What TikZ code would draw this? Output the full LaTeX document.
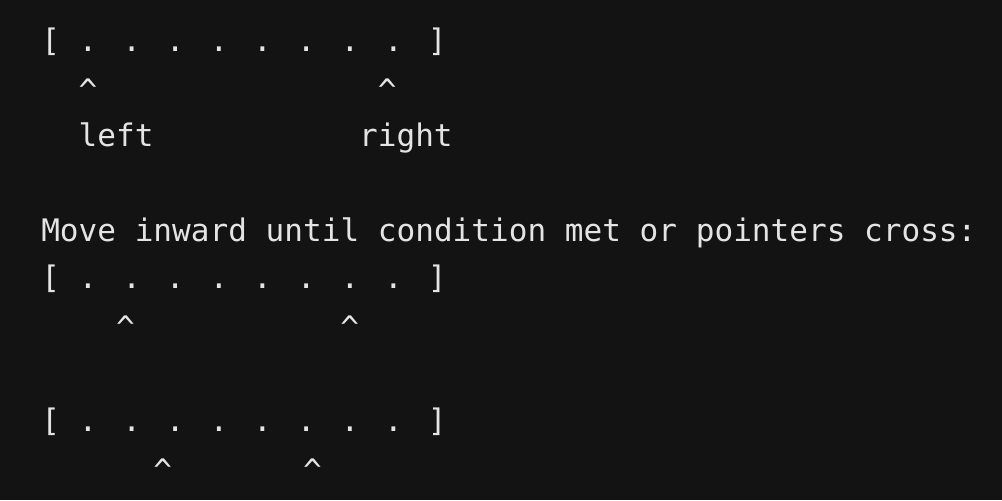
\documentclass[tikz,border=0pt]{standalone}
\usepackage{fontspec}
\newfontfamily\asciifont{DejaVu Sans Mono}
\definecolor{termbg}{HTML}{131313}
\definecolor{termfg}{HTML}{E4E4E4}

\begin{document}
\begin{tikzpicture}[x=0.75pt,y=-0.75pt]
        \tikzset{mono/.style= {font=\asciifont\fontsize{23.3}{28}\selectfont, text=termfg, inner sep=0pt, anchor=base west},
        caret/.style= {mono, yshift=-2pt},
        }
        \fill[termbg] (0,0) rectangle (1002,500);
%%% first state
        \node [mono] (arrA) at (41,51) {[ . . . . . . . . ]};
        \node [caret] (lptrA) at (78.4,98.5) {\textasciicircum};
        \node [caret] (rptrA) at (377.6,98.5) {\textasciicircum};
        \node [mono] (lname) at (78.4,146) {left};
        \node [mono] (rname) at (358.9,146) {right};
%%% caption
        \node [mono] (note) at (41,241) {Move inward until condition met or pointers cross:};
%%% second state
        \node [mono] (arrB) at (41,288.5) {[ . . . . . . . . ]};
        \node [caret] (lptrB) at (115.8,336) {\textasciicircum};
        \node [caret] (rptrB) at (340.2,336) {\textasciicircum};
%%% third state
        \node [mono] (arrC) at (41,431) {[ . . . . . . . . ]};
        \node [caret] (lptrC) at (153.2,478.5) {\textasciicircum};
        \node [caret] (rptrC) at (302.8,478.5) {\textasciicircum};
\end{tikzpicture}
\end{document}
